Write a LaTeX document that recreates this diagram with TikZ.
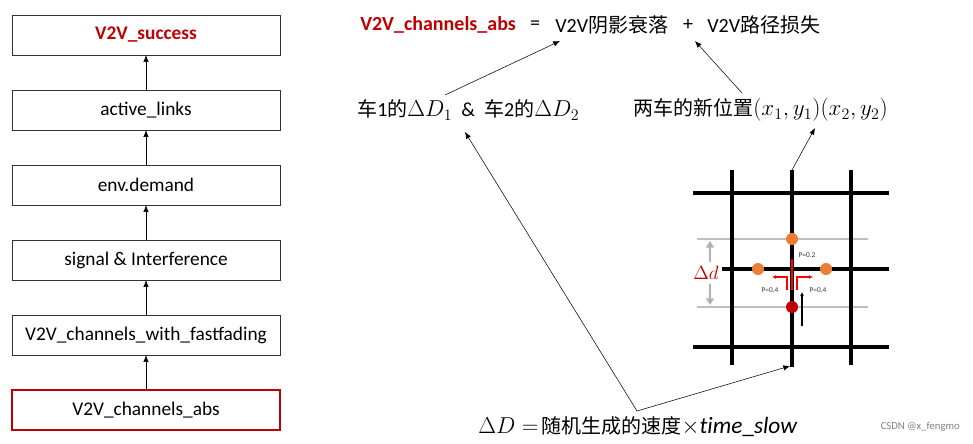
\documentclass[tikz,border=0pt]{standalone}
\usepackage{fontspec}
\setmainfont{Carlito}
\newfontfamily\cjk{Noto Sans CJK SC}
\usetikzlibrary{arrows.meta}
\definecolor{dred}{RGB}{192,0,0}
\definecolor{orng}{RGB}{237,125,49}
\newcommand{\mybigmath}[1]{{\fontsize{17.5}{19}\selectfont$#1$}}
\begin{document}
\begin{tikzpicture}[x=0.75pt,y=-0.75pt,
  box/.style={draw=black!80,minimum width=201pt,minimum height=30pt,inner sep=0pt,font=\fontsize{14.5}{16}\selectfont},
  lbl/.style={inner sep=0pt,font=\fontsize{15}{17}\selectfont},
  arr/.style={-{Latex[length=5pt,width=4pt]},thin},
  road/.style={line width=2.6pt},
  thinroad/.style={gray!50,line width=1pt},
  pl/.style={font=\fontsize{5.5}{6}\selectfont,text=black!80,inner sep=0pt}]
\useasboundingbox (0,0) rectangle (973,443);
\node[box] (b1) at (146,35) {\textcolor{dred}{\bfseries V2V\_success}};
\node[box] (b2) at (146,110) {active\_links};
\node[box] (b3) at (146,185) {env.demand};
\node[box] (b4) at (146,260) {signal \& Interference};
\node[box] (b5) at (146,335) {V2V\_channels\_with\_fastfading};
\node[box,draw=dred,line width=1.2pt] (b6) at (146,410) {V2V\_channels\_abs};
\foreach \a/\b in {b2/b1,b3/b2,b4/b3,b5/b4,b6/b5} \draw[arr] (\a) -- (\b);
% title
\node[lbl,anchor=west] (t1) at (360,25) {\textcolor{dred}{\bfseries V2V\_channels\_abs}};
\node[lbl] (te) at (535,25) {=};
\node[lbl,anchor=west] (t2) at (555,25) {V2V{\cjk 阴影衰落}};
\node[lbl] (tp) at (688,25) {+};
\node[lbl,anchor=west] (t3) at (707,25) {V2V{\cjk 路径损失}};
\node[lbl,anchor=west] (d12) at (357,110) {{\cjk 车}1{\cjk 的}\mybigmath{\Delta D_1}\ \ \&\ \ {\cjk 车}2{\cjk 的}\mybigmath{\Delta D_2}};
\node[lbl,anchor=west] (pos) at (633,110) {{\cjk 两车的新位置}\mybigmath{(x_1,y_1)(x_2,y_2)}};
\node[lbl,anchor=west] (dd) at (478,427) {\mybigmath{\Delta D=}\,{\cjk 随机生成的速度}\mybigmath{\times\mathit{time\_slow}}};
\coordinate (j) at (637,411);
\coordinate (g1) at (792,170);
\coordinate (g2) at (790,366);
\draw[arr] (445,95) -- (560,41);
\draw[arr] (742,93) -- (695,41);
\draw[arr] (g1) -- (815,128);
\draw[arr] (j) -- (465,132);
\draw[arr] (j) -- (g2);
% grid
\draw[thinroad] (697,239) -- (868,239) (697,307) -- (868,307);
\draw[road] (732,170) -- (732,365) (792,170) -- (792,367) (851,170) -- (851,365);
\draw[road] (693,193) -- (889,193) (722,269) -- (889,269) (693,347) -- (889,347);
\draw[gray!60,line width=2pt,-{Triangle[length=5pt,width=6pt]}] (710,262) -- (710,241);
\draw[gray!60,line width=2pt,-{Triangle[length=5pt,width=6pt]}] (710,284) -- (710,305);
\node[font=\fontsize{14}{16}\selectfont,text=dred,inner sep=0pt,fill=white] (dl) at (706,273) {$\Delta d$};
\fill[orng] (792,239) circle (4.5pt) (758,269) circle (4.5pt) (826,269) circle (4.5pt);
\fill[dred] (792,307) circle (4.5pt);
\draw[red,line width=1pt,-{Latex[length=3pt,width=3pt]}] (792,290) -- (792,258);
\draw[red,line width=1pt,-{Latex[length=3pt,width=3pt]}] (787,290) -- (787,277) -- (772,277);
\draw[red,line width=1pt,-{Latex[length=3pt,width=3pt]}] (797,290) -- (797,277) -- (813,277);
\draw[line width=0.8pt,-{Latex[length=3pt,width=3pt]}] (802,326) -- (802,292);
\node[pl] (p1) at (807,255) {P=0.2};
\node[pl] (p2) at (770,290) {P=0.4};
\node[pl] (p3) at (818,290) {P=0.4};
\node[font=\fontsize{8}{9}\selectfont,text=gray,inner sep=0pt,anchor=east] (w) at (960,427) {CSDN @x\_fengmo};
\end{tikzpicture}
\end{document}
